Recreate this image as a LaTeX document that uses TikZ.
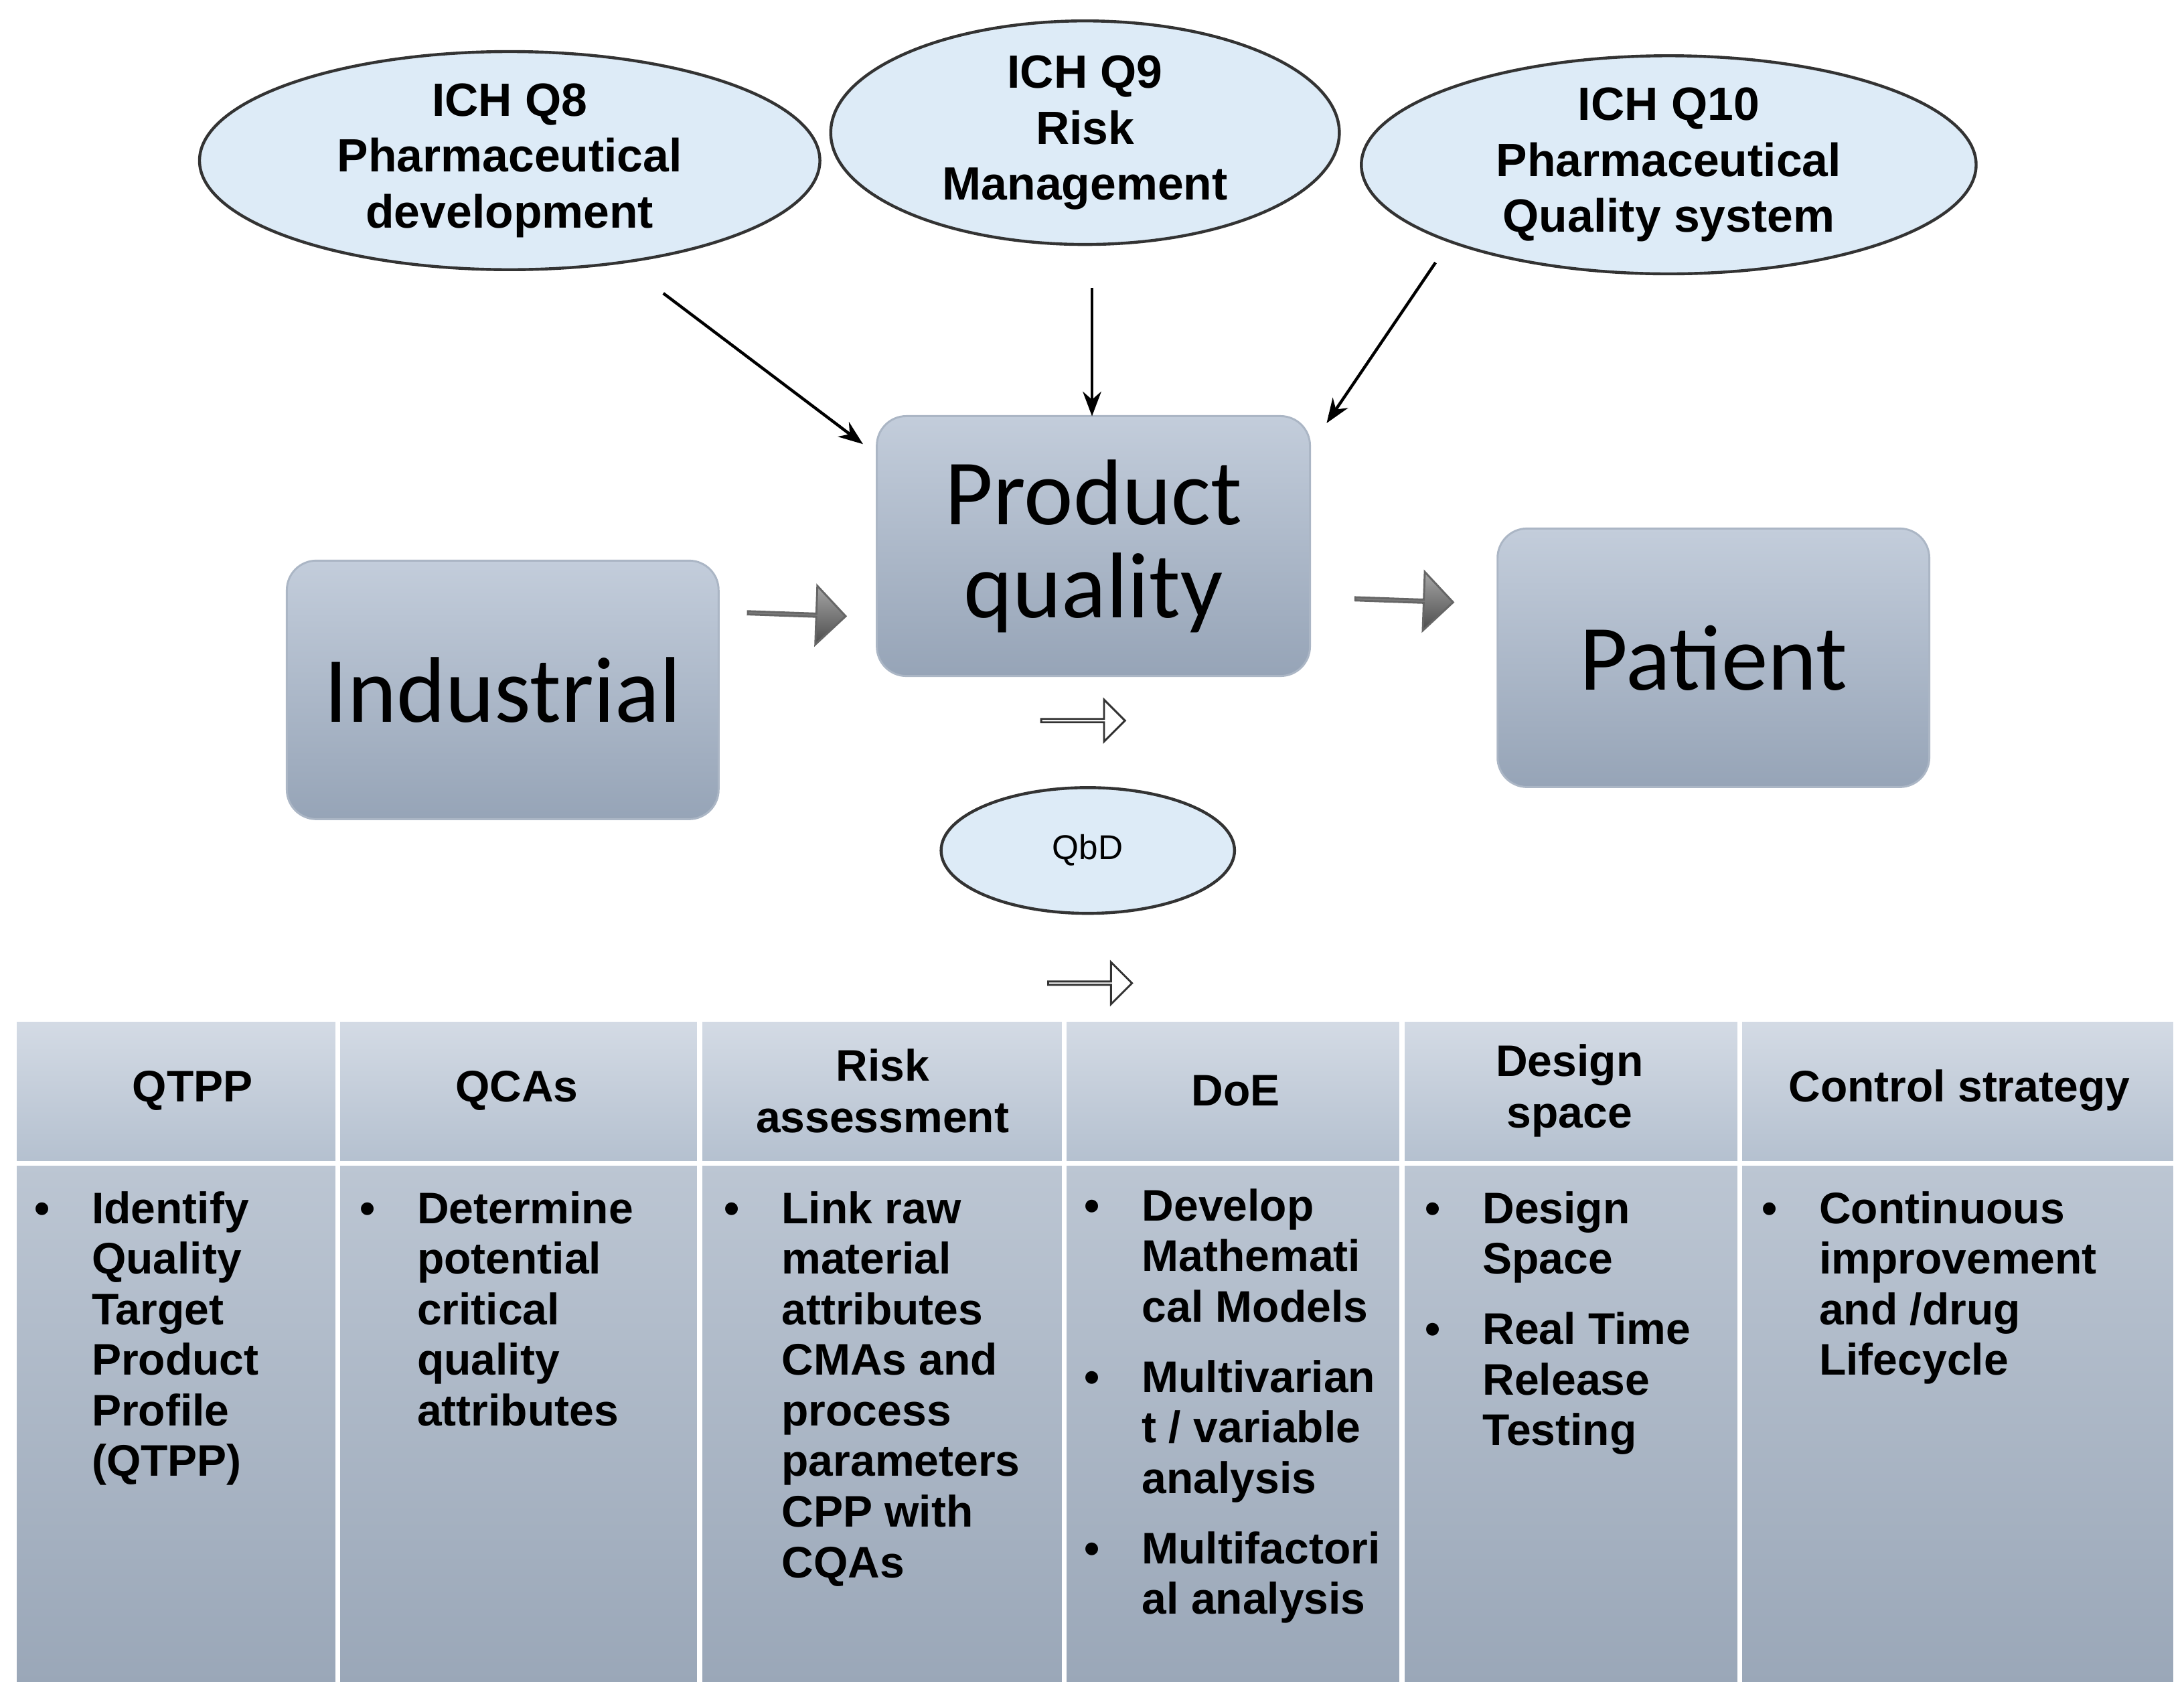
\documentclass[tikz,border=0pt]{standalone}
\usepackage{fontspec}
\setmainfont{Liberation Sans}
\newfontfamily\calfont{Carlito}
\usetikzlibrary{shapes.geometric,shapes.arrows,arrows.meta}
\definecolor{ellfill}{HTML}{DDEBF7}
\definecolor{boxtop}{HTML}{C3CDDB}
\definecolor{boxbot}{HTML}{96A4B7}
\definecolor{hdtop}{HTML}{D4DBE5}
\definecolor{hdbot}{HTML}{B4C0CF}
\definecolor{bdtop}{HTML}{BCC6D3}
\definecolor{bdbot}{HTML}{9AA7B8}
\tikzset{
 ell/.style={ellipse,draw=black!80,line width=0.6pt,fill=ellfill,align=center,font=\fontsize{9.5}{11.4}\selectfont\bfseries,inner sep=0pt},
 bigbox/.style={rounded corners=6pt,draw=boxbot!80,top color=boxtop,bottom color=boxbot,font=\calfont\fontsize{19}{19}\selectfont,align=center},
 conn/.style={-{Stealth[length=5pt]},line width=0.6pt},
 fat/.style={single arrow,draw=black!60,top color=black!35,bottom color=black!70,minimum height=0.7cm,single arrow head extend=0.12cm,minimum width=0.42cm,inner sep=0pt},
 hollow/.style={single arrow,shape border rotate=-90,draw=black!80,fill=white,minimum height=0.6cm,minimum width=0.3cm,single arrow head extend=0.08cm,inner sep=0pt},
 hd/.style={draw=white,line width=1pt,top color=hdtop,bottom color=hdbot},
 bd/.style={draw=white,line width=1pt,top color=bdtop,bottom color=bdbot},
 htxt/.style={font=\fontsize{9}{10.5}\selectfont\bfseries,align=center},
 btxt/.style={font=\fontsize{9}{10.3}\selectfont\bfseries,anchor=north west,inner sep=0pt}
}
\newcommand{\bl}{\textbullet}
\begin{document}
\begin{tikzpicture}[x=0.01cm,y=-0.01cm]
\useasboundingbox[fill=white] (0,0) rectangle (1564,1214);
% ellipses
\node[ell,minimum width=4.44cm,minimum height=1.5cm] (q8) at (365,115) {ICH Q8\\Pharmaceutical\\development};
\node[ell,minimum width=3.64cm,minimum height=1.6cm] (q9) at (777,95) {ICH Q9\\Risk\\Management};
\node[ell,minimum width=4.4cm,minimum height=1.44cm] (q10) at (1195,118) {ICH Q10\\Pharmaceutical\\Quality system};
% big boxes
\node[bigbox,minimum width=3.1cm,minimum height=1.86cm] (pq) at (783,391) {Product\\quality};
\node[bigbox,minimum width=3.09cm,minimum height=1.85cm] (ind) at (360,494) {Industrial};
\node[bigbox,minimum width=3.09cm,minimum height=1.85cm] (pat) at (1227,471) {Patient};
% connectors
\coordinate (a8) at (475,210); \coordinate (a9) at (782,206); \coordinate (a10) at (1028,188);
\coordinate (e8) at (618,318); \coordinate (e9) at (782,298); \coordinate (e10) at (950,303);
\draw[conn] (a8) -- (e8);
\draw[conn] (a9) -- (e9);
\draw[conn] (a10) -- (e10);
% fat arrows
\node[fat,rotate=-2] (f1) at (570,440) {};
\node[fat,rotate=-2] (f2) at (1005,430) {};
% hollow arrows
\node[hollow] (h1) at (775,516) {};
\node[ell,font=\fontsize{7}{8}\selectfont,minimum width=2.1cm,minimum height=0.9cm] (qbd) at (779,609) {QbD};
\node[hollow] (h2) at (780,704) {};
% table
\foreach \x/\y in {10/242,242/501,501/762,762/1004,1004/1246,1246/1558}{
  \path[hd] (\x,730) rectangle (\y,833);
  \path[bd] (\x,833) rectangle (\y,1206);
}
\node[htxt] (c1) at (138,781) {QTPP};
\node[htxt] (c2) at (370,781) {QCAs};
\node[htxt] (c3) at (632,781) {Risk\\assessment};
\node[htxt] (c4) at (885,781) {DoE};
\node[htxt] (c5) at (1124,781) {Design\\space};
\node[htxt] (c6) at (1403,781) {Control strategy};
\node[btxt] (b1) at (24,850) {\begin{tabular}{@{}l@{\hspace{0.3cm}}l@{}}\bl&Identify\\&Quality\\&Target\\&Product\\&Profile\\&(QTPP)\end{tabular}};
\node[btxt] (b2) at (257,850) {\begin{tabular}{@{}l@{\hspace{0.3cm}}l@{}}\bl&Determine\\&potential\\&critical\\&quality\\&attributes\end{tabular}};
\node[btxt] (b3) at (518,850) {\begin{tabular}{@{}l@{\hspace{0.3cm}}l@{}}\bl&Link raw\\&material\\&attributes\\&CMAs and\\&process\\&parameters\\&CPP with\\&CQAs\end{tabular}};
\node[btxt] (b4) at (776,848) {\begin{tabular}{@{}l@{\hspace{0.3cm}}l@{}}\bl&Develop\\&Mathemati\\&cal Models\\[4pt]\bl&Multivarian\\&t / variable\\&analysis\\[4pt]\bl&Multifactori\\&al analysis\end{tabular}};
\node[btxt] (b5) at (1020,850) {\begin{tabular}{@{}l@{\hspace{0.3cm}}l@{}}\bl&Design\\&Space\\[4pt]\bl&Real Time\\&Release\\&Testing\end{tabular}};
\node[btxt] (b6) at (1261,850) {\begin{tabular}{@{}l@{\hspace{0.3cm}}l@{}}\bl&Continuous\\&improvement\\&and /drug\\&Lifecycle\end{tabular}};
\end{tikzpicture}
\end{document}
